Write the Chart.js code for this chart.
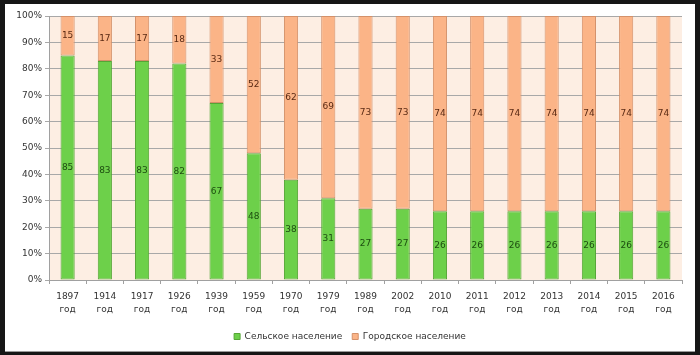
<!DOCTYPE html>
<html>
<head>
<meta charset="utf-8">
<script src="https://cdn.jsdelivr.net/npm/chart.js@4"></script>
<style>
html,body{margin:0;padding:0;background:#161616;width:700px;height:355px;overflow:hidden;}
#frame{position:absolute;left:5px;top:4px;width:690px;height:348px;background:#fff;border-bottom:1px solid #9a9a9a;box-sizing:border-box;}
#c{display:block;}
</style>
</head>
<body>
<div id="frame"><canvas id="c" width="690" height="347"></canvas></div>
<script>
const years = ['1897','1914','1917','1926','1939','1959','1970','1979','1989','2002','2010','2011','2012','2013','2014','2015','2016'];
const rural = [85,83,83,82,67,48,38,31,27,27,26,26,26,26,26,26,26];
const urban = [15,17,17,18,33,52,62,69,73,73,74,74,74,74,74,74,74];
const yTicks = [0,10,20,30,40,50,60,70,80,90,100];
const seriesNames = ['Сельское население','Городское население'];

const labels = years.map(y => [y, 'год']);
const FONT = 'DejaVu Sans, Verdana, sans-serif';

const bgPlugin = {
  id: 'plotBg',
  beforeDraw(chart) {
    const a = chart.chartArea, ctx = chart.ctx;
    ctx.save();
    ctx.fillStyle = '#fdeee3';
    ctx.fillRect(a.left, a.top, a.right - a.left, a.bottom - a.top);
    ctx.restore();
  }
};

const valueLabels = {
  id: 'valueLabels',
  afterDatasetsDraw(chart) {
    const ctx = chart.ctx;
    ctx.save();
    ctx.font = '9px ' + FONT;
    ctx.textAlign = 'center';
    ctx.textBaseline = 'middle';
    chart.data.datasets.forEach((ds, i) => {
      const meta = chart.getDatasetMeta(i);
      ctx.fillStyle = ds.labelColor;
      meta.data.forEach((el, j) => {
        const y = (el.y + el.base) / 2;
        ctx.fillText(String(ds.data[j]), el.x, y);
      });
    });
    ctx.restore();
  }
};

new Chart(document.getElementById('c'), {
  type: 'bar',
  data: {
    labels: labels,
    datasets: [
      { label: seriesNames[0], data: rural, backgroundColor: '#6dd04a', borderColor: '#55a536', borderWidth: 1, borderSkipped: false, labelColor: '#1d4d10' },
      { label: seriesNames[1], data: urban, backgroundColor: '#fbb487', borderColor: '#d4916a', borderWidth: 1, borderSkipped: false, labelColor: '#5a2a14' }
    ]
  },
  options: {
    responsive: false,
    animation: false,
    devicePixelRatio: 1,
    datasets: { bar: { barPercentage: 0.38, categoryPercentage: 1 } },
    layout: { padding: { top: 12, right: 0, left: 0, bottom: 0 } },
    scales: {
      x: {
        stacked: true,
        offset: true,
        grid: { offset: true, drawOnChartArea: false, drawTicks: true, tickLength: 4, color: '#a0a0a0' },
        border: { color: '#a0a0a0' },
        ticks: { color: '#333', font: { family: FONT, size: 9, lineHeight: 1.45 }, maxRotation: 0, minRotation: 0, autoSkip: false, padding: 6 },
        afterFit(s) { s.height = 42; }
      },
      y: {
        stacked: true,
        min: 0, max: 100,
        afterBuildTicks(s) { s.ticks = yTicks.map(v => ({ value: v })); },
        grid: { color: '#a8a8a8', tickLength: 4 },
        border: { color: '#a0a0a0' },
        ticks: { color: '#333', font: { family: FONT, size: 9 }, padding: 3, callback: v => v + '%' },
        afterFit(s) { s.width = 44; }
      },
      yRight: {
        position: 'right',
        min: 0, max: 100,
        grid: { display: false, drawTicks: false },
        border: { display: false },
        ticks: { display: false },
        afterFit(s) { s.width = 13; }
      }
    },
    plugins: {
      legend: {
        position: 'bottom',
        labels: { boxWidth: 6, boxHeight: 6, color: '#333', font: { family: FONT, size: 9 }, padding: 10 }
      },
      tooltip: { enabled: false }
    }
  },
  plugins: [bgPlugin, valueLabels]
});
</script>
</body>
</html>
